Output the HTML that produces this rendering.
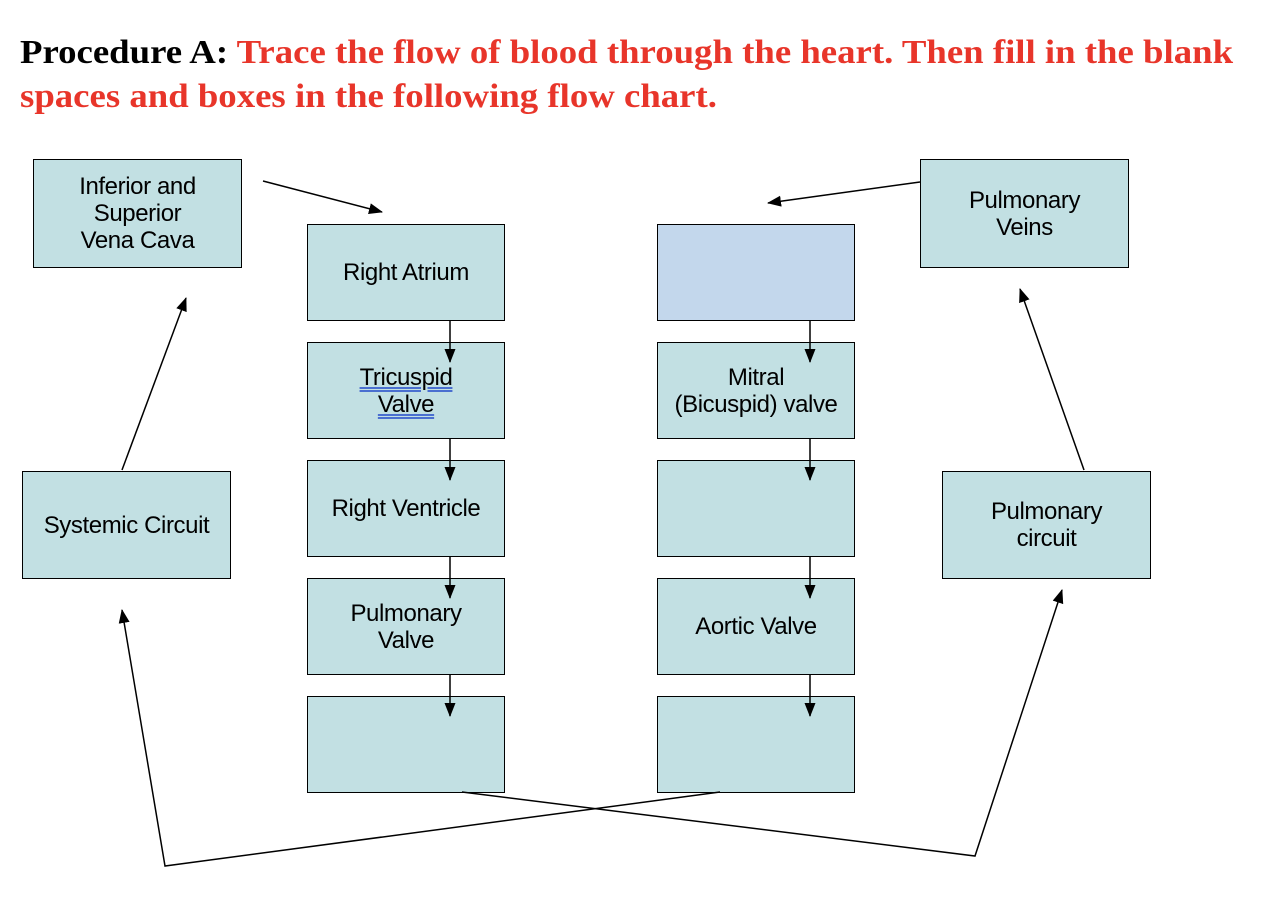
<!DOCTYPE html>
<html><head><meta charset="utf-8"><style>
html,body{margin:0;padding:0;background:#fff;width:1266px;height:912px;overflow:hidden;position:relative}
.t{position:absolute;left:20px;font-family:"Liberation Serif",serif;font-weight:bold;font-size:34px;color:#e8352a;line-height:1;white-space:nowrap;transform-origin:0 0;transform:scaleX(1.082)}
.b{position:absolute;background:#c2e0e3;border:1.5px solid #000;box-sizing:border-box;display:flex;align-items:center;justify-content:center;text-align:center;font-family:"Liberation Sans",sans-serif;font-size:24px;line-height:27px;color:#000;letter-spacing:-0.4px}
svg{position:absolute;left:0;top:0}
</style></head><body>
<div class="t" style="top:36px"><span style="color:#000">Procedure A:</span> Trace the flow of blood through the heart. Then fill in the blank</div>
<div class="t" style="top:80px">spaces and boxes in the following flow chart.</div>

<div class="b" style="left:33px;top:159px;width:209px;height:109px">Inferior and<br>Superior<br>Vena Cava</div>
<div class="b" style="left:920px;top:159px;width:209px;height:109px">Pulmonary<br>Veins</div>
<div class="b" style="left:22px;top:471px;width:209px;height:108px">Systemic Circuit</div>
<div class="b" style="left:942px;top:471px;width:209px;height:108px">Pulmonary<br>circuit</div>

<div class="b" style="left:307px;top:224px;width:198px;height:97px">Right Atrium</div>
<div class="b" style="left:307px;top:342px;width:198px;height:97px"><span style="text-decoration:underline double #4a6fd0">Tricuspid<br>Valve</span></div>
<div class="b" style="left:307px;top:460px;width:198px;height:97px">Right Ventricle</div>
<div class="b" style="left:307px;top:578px;width:198px;height:97px">Pulmonary<br>Valve</div>
<div class="b" style="left:307px;top:696px;width:198px;height:97px"></div>

<div class="b" style="left:657px;top:224px;width:198px;height:97px;background:#c3d7ec"></div>
<div class="b" style="left:657px;top:342px;width:198px;height:97px">Mitral<br>(Bicuspid) valve</div>
<div class="b" style="left:657px;top:460px;width:198px;height:97px"></div>
<div class="b" style="left:657px;top:578px;width:198px;height:97px">Aortic Valve</div>
<div class="b" style="left:657px;top:696px;width:198px;height:97px"></div>

<svg width="1266" height="912" viewBox="0 0 1266 912">
<defs><marker id="m" markerWidth="14" markerHeight="14" refX="13" refY="7" orient="auto" markerUnits="userSpaceOnUse"><path d="M0,1.5 L14,7 L0,12.5 z" fill="#000"/></marker></defs>
<g stroke="#000" stroke-width="1.5" fill="none">
<line x1="263" y1="181" x2="382" y2="212" marker-end="url(#m)"/>
<line x1="920" y1="182" x2="768" y2="203" marker-end="url(#m)"/>
<line x1="122" y1="470" x2="186" y2="298" marker-end="url(#m)"/>
<line x1="1084" y1="470" x2="1020" y2="289" marker-end="url(#m)"/>
<line x1="450" y1="321" x2="450" y2="362" marker-end="url(#m)"/>
<line x1="450" y1="439" x2="450" y2="480" marker-end="url(#m)"/>
<line x1="450" y1="557" x2="450" y2="598" marker-end="url(#m)"/>
<line x1="450" y1="675" x2="450" y2="716" marker-end="url(#m)"/>
<line x1="810" y1="321" x2="810" y2="362" marker-end="url(#m)"/>
<line x1="810" y1="439" x2="810" y2="480" marker-end="url(#m)"/>
<line x1="810" y1="557" x2="810" y2="598" marker-end="url(#m)"/>
<line x1="810" y1="675" x2="810" y2="716" marker-end="url(#m)"/>
<polyline points="462,792 975,856 1062,590" marker-end="url(#m)"/>
<polyline points="720,792 165,866 122,610" marker-end="url(#m)"/>
</g></svg>
</body></html>
